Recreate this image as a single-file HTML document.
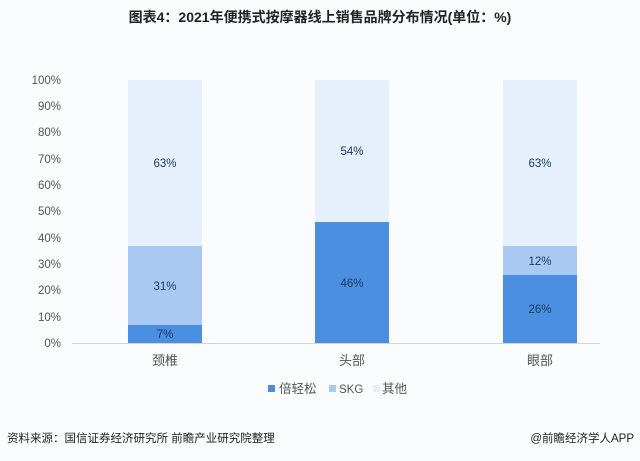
<!DOCTYPE html>
<html><head><meta charset="utf-8"><style>
body{margin:0;width:640px;height:456px;background:#fbfcfe;overflow:hidden;font-family:"Liberation Sans","Noto Sans CJK SC",sans-serif;}
</style></head><body>
<svg width="640" height="456" xmlns="http://www.w3.org/2000/svg" font-family="Liberation Sans, Noto Sans CJK SC, sans-serif">
<rect width="640" height="456" fill="#fbfcfe"/>
<text x="320" y="22" text-anchor="middle" font-size="14" font-weight="bold" fill="#222">图表4：2021年便携式按摩器线上销售品牌分布情况(单位：%)</text>
<g font-size="11.5" fill="#555" text-anchor="end">
<text x="61" y="347">0%</text><text x="61" y="321">10%</text><text x="61" y="294">20%</text><text x="61" y="268">30%</text><text x="61" y="242">40%</text><text x="61" y="215">50%</text><text x="61" y="189">60%</text><text x="61" y="163">70%</text><text x="61" y="136">80%</text><text x="61" y="110">90%</text><text x="61" y="84">100%</text>
</g>
<!-- bar1 -->
<rect x="128" y="80" width="74" height="166" fill="#e6f0fc"/>
<rect x="128" y="246" width="74" height="79" fill="#a9c9f2"/>
<rect x="128" y="325" width="74" height="18" fill="#4a8fe0"/>
<!-- bar2 -->
<rect x="315" y="80" width="74" height="142" fill="#e6f0fc"/>
<rect x="315" y="222" width="74" height="121" fill="#4a8fe0"/>
<!-- bar3 -->
<rect x="503" y="80" width="74" height="166" fill="#e6f0fc"/>
<rect x="503" y="246" width="74" height="29" fill="#a9c9f2"/>
<rect x="503" y="275" width="74" height="68" fill="#4a8fe0"/>
<line x1="72" y1="343.5" x2="600" y2="343.5" stroke="#d0d4da" stroke-width="1"/>
<g font-size="11.5" fill="#1f3a60" text-anchor="middle">
<text x="165" y="167">63%</text><text x="165" y="290">31%</text><text x="165" y="338">7%</text>
<text x="352" y="155">54%</text><text x="352" y="287">46%</text>
<text x="540" y="167">63%</text><text x="540" y="265">12%</text><text x="540" y="313">26%</text>
</g>
<g font-size="13" fill="#555" text-anchor="middle">
<text x="165" y="365">颈椎</text><text x="352" y="365">头部</text><text x="540" y="365">眼部</text>
</g>
<rect x="268" y="385" width="7" height="7" fill="#4a8fe0"/>
<text x="279" y="393" font-size="12.5" fill="#555">倍轻松</text>
<rect x="329" y="385" width="7" height="7" fill="#a9c9f2"/>
<text x="339" y="393" font-size="11.5" fill="#555">SKG</text>
<rect x="373" y="385" width="7" height="7" fill="#e6f0fc"/>
<text x="382" y="393" font-size="12.5" fill="#555">其他</text>
<text x="7" y="442" font-size="11.5" fill="#222">资料来源：国信证券经济研究所 前瞻产业研究院整理</text>
<text x="634" y="442" font-size="11.5" fill="#222" text-anchor="end">@前瞻经济学人APP</text>
</svg>
</body></html>
